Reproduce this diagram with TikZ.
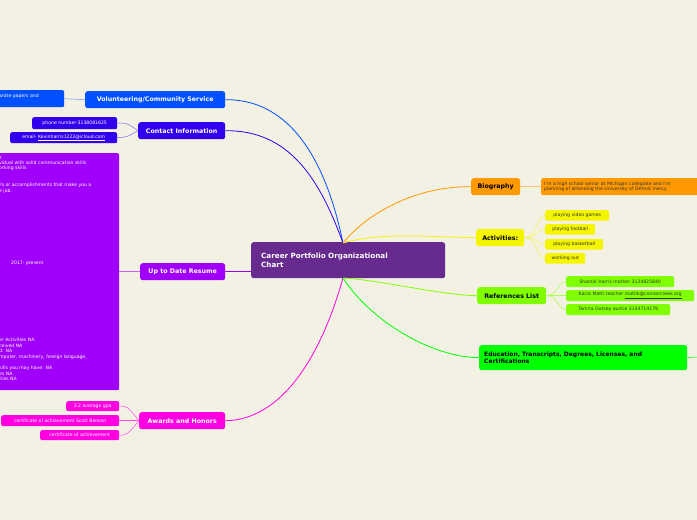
\documentclass[tikz,border=0pt]{standalone}
\usepackage{fontspec}
\setmainfont{DejaVu Sans}
\definecolor{bg}{HTML}{F3F0E4}
\definecolor{cpur}{HTML}{672A8E}
\definecolor{cvol}{HTML}{0050FF}
\definecolor{ccon}{HTML}{3300EE}
\definecolor{cres}{HTML}{A000FA}
\definecolor{cawd}{HTML}{FF00E0}
\definecolor{cbio}{HTML}{FF9900}
\definecolor{cact}{HTML}{F5F500}
\definecolor{cref}{HTML}{80FF00}
\definecolor{cedu}{HTML}{00FF00}
\tikzset{
 mainbox/.style={rounded corners=2.5pt,font=\bfseries\fontsize{6.3}{7.5}\selectfont,inner sep=0pt,anchor=north west},
 leaf/.style={rounded corners=2pt,font=\fontsize{4.6}{5.6}\selectfont,inner sep=0pt,anchor=north west},
 conn/.style={line width=0.8pt},
 sub/.style={line width=0.5pt}
}
\begin{document}
\begin{tikzpicture}[x=1pt,y=-1pt]
\fill[bg] (0,0) rectangle (697,520);
\clip (0,0) rectangle (697,520);
\useasboundingbox (0,0) rectangle (697,520);
% central
\node[mainbox,fill=cpur,text=white,minimum width=194pt,minimum height=36pt,text width=174pt,align=left,inner xsep=10pt,font=\bfseries\fontsize{7.2}{9}\selectfont] (c) at (251,242) {Career Portfolio Organizational\\Chart};
\coordinate (ct) at (343,243);
\coordinate (cb) at (343,278);
% left main nodes
\node[mainbox,fill=cvol,text=white,minimum width=140pt,minimum height=17pt] (vol) at (85,91) {Volunteering/Community Service};
\node[mainbox,fill=ccon,text=white,minimum width=87pt,minimum height=17pt] (con) at (138,122) {Contact Information};
\node[mainbox,fill=cres,text=white,minimum width=85pt,minimum height=17pt] (res) at (140,263) {Up to Date Resume};
\node[mainbox,fill=cawd,text=white,minimum width=86pt,minimum height=17pt] (awd) at (139,412) {Awards and Honors};
% right main nodes
\node[mainbox,fill=cbio,text=black,minimum width=49pt,minimum height=17pt] (bio) at (471,178) {Biography};
\node[mainbox,fill=cact,text=black,minimum width=48pt,minimum height=17pt] (act) at (476,229) {Activities:};
\node[mainbox,fill=cref,text=black,minimum width=69pt,minimum height=17pt] (ref) at (477,287) {References List};
\node[mainbox,fill=cedu,text=black,minimum width=208pt,minimum height=25pt,text width=198pt,align=left,inner xsep=5pt,font=\bfseries\fontsize{6}{7.5}\selectfont] (edu) at (479,345) {Education, Transcripts, Degrees, Licenses, and\\Certifications};
% main connectors
\draw[conn,cvol] (ct) .. controls (330,180) and (300,99) .. (vol.east);
\draw[conn,ccon] (ct) .. controls (320,180) and (290,130) .. (con.east);
\draw[conn,cres] (c.west|-res.east) -- (res.east);
\draw[conn,cawd] (cb) .. controls (320,360) and (280,420) .. (awd.east);
\draw[conn,cbio] (ct) .. controls (370,210) and (420,186) .. (bio.west);
\draw[conn,cact] (ct) .. controls (380,232) and (430,237) .. (act.west);
\draw[conn,cref] (cb) .. controls (380,280) and (440,295) .. (ref.west);
\draw[conn,cedu] (cb) .. controls (370,320) and (430,357) .. (edu.west);
\coordinate (ee) at (697,357);
\draw[sub,cedu] (edu.east) -- (ee);
% volunteering child
\node[leaf,fill=cvol,minimum width=74pt,minimum height=17pt] (v1) at (-10,90) {};
\node[anchor=north west,inner sep=0pt,text=white,font=\fontsize{4.6}{5.6}\selectfont] at (-1,94) {arate papers and};
\draw[sub,cvol!60] (v1.east) -- (vol.west);
% contact children
\node[leaf,fill=ccon,text=white,minimum width=85pt,minimum height=12pt,align=center] (p1) at (32,117) {phone number-3138081625};
\node[leaf,fill=ccon,text=white,minimum width=107pt,minimum height=11pt,align=center] (p2) at (10,132) {email- \underline{Kevinharris1222@icloud.com}};
\draw[sub,ccon!60] (p1.east) .. controls (127,123) .. (con.west);
\draw[sub,ccon!60] (p2.east) .. controls (127,137) .. (con.west);
% resume child
\node[leaf,fill=cres,minimum width=129pt,minimum height=237pt] (r1) at (-10,153) {};
\draw[sub,cres!60] (r1.east|-res.west) -- (res.west);
\node[anchor=north west,inner sep=0pt,text=white,font=\fontsize{4.6}{5.6}\selectfont,align=left] at (-1,156) {y\\vidual with solid communication skills\\orking skills\\ \\ \\lls or accomplishments that make you a\\e job.};
\node[anchor=west,inner sep=0pt,text=white,font=\fontsize{4.6}{5.6}\selectfont] at (11,263) {2017- present};
\node[anchor=north west,inner sep=0pt,text=white,font=\fontsize{4.6}{5.6}\selectfont,align=left] at (-1,338) {er Activities NA\\ceived NA\\d: NA\\mputer, machinery, foreign language,\\ \\kills you may have: NA\\es NA\\ities NA};
% awards children
\node[leaf,fill=cawd,text=white,minimum width=53pt,minimum height=10pt] (a1) at (66,401) {3.2 average gpa};
\node[leaf,fill=cawd,text=white,minimum width=118pt,minimum height=11pt] (a2) at (1,415) {certificate of achievement Scott Benson};
\node[leaf,fill=cawd,text=white,minimum width=79pt,minimum height=10pt] (a3) at (40,430) {certificate of achievement};
\draw[sub,cawd!70] (a1.east) .. controls (127,406) .. (awd.west);
\draw[sub,cawd!70] (a2.east) -- (awd.west);
\draw[sub,cawd!70] (a3.east) .. controls (127,435) .. (awd.west);
% biography child
\node[leaf,fill=cbio,text=black!80,minimum width=170pt,minimum height=17pt,text width=164pt,align=left,inner xsep=3pt] (b1) at (541,178) {I'm a high school senior at Michigan collegiate and I'm\\planning of attending the University of Detroit mercy};
\draw[sub,cbio!60] (bio.east) -- (b1.west);
% activities children
\foreach \n/\y/\w/\t in {g1/210/64/playing video games,g2/224/50/playing football,g3/239/58/playing basketball,g4/253/40/working out}{
  \node[leaf,fill=cact,text=black!80,minimum width=\w pt,minimum height=10.5pt,align=left,inner xsep=4pt] (\n) at (545,\y) {\t};
  \draw[sub,cact!70] (act.east) .. controls (537,237.5) and (537,\y+5) .. (\n.west);
}
% references children
\node[leaf,fill=cref,text=black!80,minimum width=108pt,minimum height=11pt,align=left,inner xsep=4pt] (f1) at (566,276) {Shantik Harris mother  3134825840};
\node[leaf,fill=cref,text=black!80,minimum width=128pt,minimum height=11pt,align=left,inner xsep=4pt] (f2) at (566,290) {Kacie Matti teacher \underline{mattik@connercreek.org}};
\node[leaf,fill=cref,text=black!80,minimum width=104pt,minimum height=11pt,align=left,inner xsep=4pt] (f3) at (566,304) {Tamira Outsey auntie 3134714179};
\draw[sub,cref!70] (ref.east) .. controls (558,295.5) and (558,281.5) .. (f1.west);
\draw[sub,cref!70] (ref.east) -- (f2.west);
\draw[sub,cref!70] (ref.east) .. controls (558,295.5) and (558,309.5) .. (f3.west);
\end{tikzpicture}
\end{document}
